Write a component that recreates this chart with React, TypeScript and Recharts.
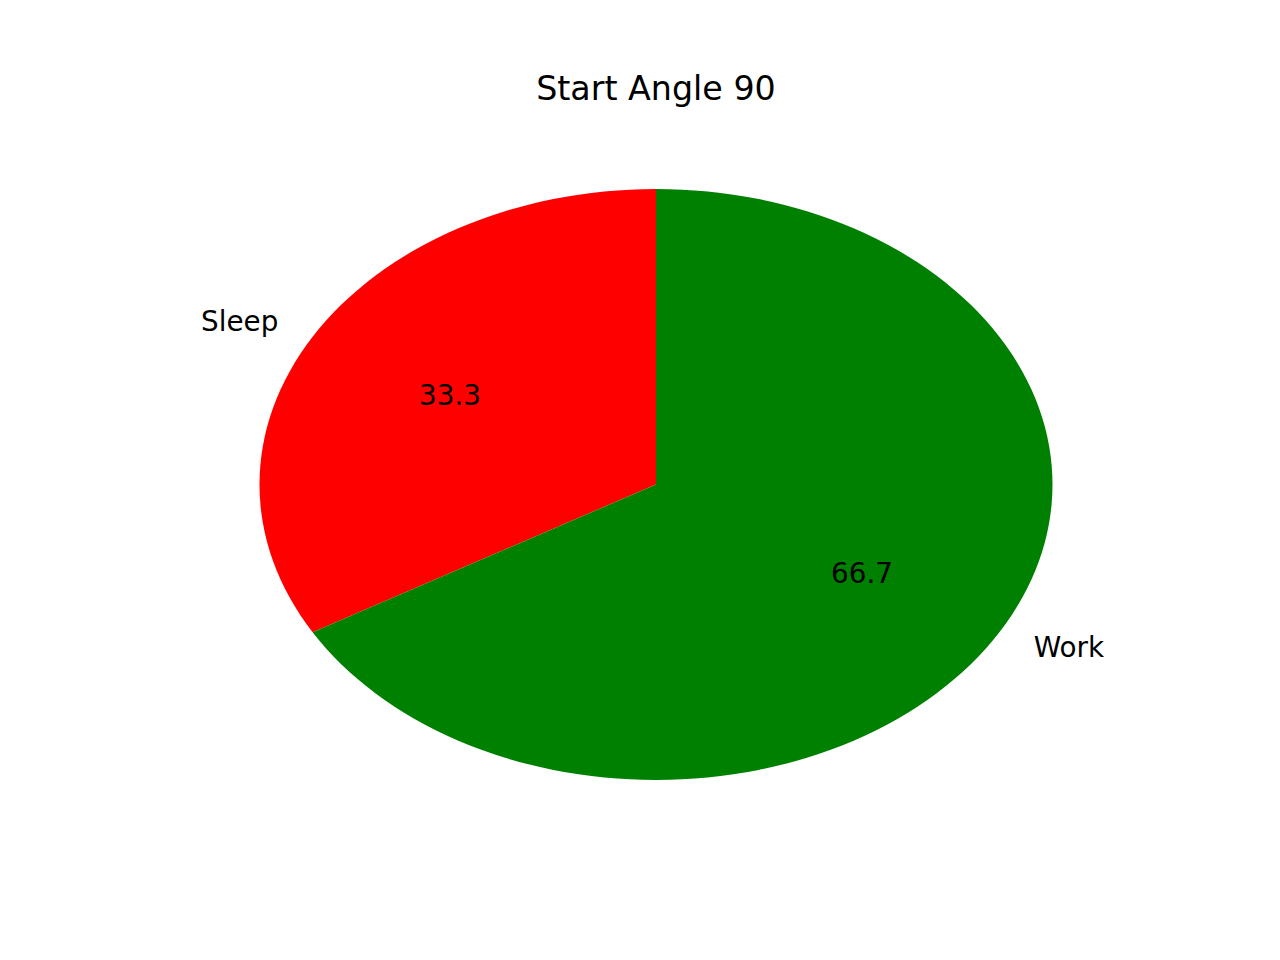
import React from 'react';
import { PieChart, Pie, Cell, Customized } from 'recharts';

const categories = ['Sleep', 'Work'];
const values = [8, 16];
const colors = ['#ff0000', '#008000'];
const title = 'Start Angle 90';

const data = categories.map((name, i) => ({ name, value: values[i] }));

const CX = 656;
const CY = 484.5;
const RX = 396.5;
const RY = 295.5;
const ASPECT = RY / RX;
const FONT = 'DejaVu Sans, sans-serif';

const RAD = Math.PI / 180;

const EllipseSector = (props: any) => {
  const { cx, cy, outerRadius, startAngle, endAngle, fill } = props;
  const rx = outerRadius;
  const ry = outerRadius * ASPECT;
  const a0 = startAngle * RAD;
  const a1 = endAngle * RAD;
  const x0 = cx + rx * Math.cos(a0);
  const y0 = cy - ry * Math.sin(a0);
  const x1 = cx + rx * Math.cos(a1);
  const y1 = cy - ry * Math.sin(a1);
  const sweep = Math.abs(endAngle - startAngle);
  const large = sweep > 180 ? 1 : 0;
  const sweepFlag = endAngle > startAngle ? 0 : 1;
  const d = `M ${cx} ${cy} L ${x0} ${y0} A ${rx} ${ry} 0 ${large} ${sweepFlag} ${x1} ${y1} Z`;
  return <path d={d} fill={fill} stroke="none" />;
};

const renderLabel = (props: any) => {
  const { cx, cy, midAngle, outerRadius, name, percent } = props;
  const c = Math.cos(midAngle * RAD);
  const s = Math.sin(midAngle * RAD);
  const rx = outerRadius;
  const ry = outerRadius * ASPECT;
  const lx = cx + 1.1 * rx * c;
  const ly = cy - 1.1 * ry * s;
  const px = cx + 0.6 * rx * c;
  const py = cy - 0.6 * ry * s;
  return (
    <g>
      <text
        x={lx}
        y={ly}
        textAnchor={c < 0 ? 'end' : 'start'}
        dominantBaseline="central"
        fontFamily={FONT}
        fontSize={27.8}
        fill="#000"
      >
        {name}
      </text>
      <text
        x={px}
        y={py}
        textAnchor="middle"
        dominantBaseline="central"
        fontFamily={FONT}
        fontSize={27.8}
        fill="#000"
      >
        {(percent * 100).toFixed(1)}
      </text>
    </g>
  );
};

const Title = () => (
  <text
    x={656}
    y={88}
    textAnchor="middle"
    dominantBaseline="central"
    fontFamily={FONT}
    fontSize={33.3}
    fill="#000"
  >
    {title}
  </text>
);

export default function App() {
  return (
    <div style={{ position: 'absolute', left: 0, top: 0, width: 1280, height: 960, background: '#fff' }}>
      <PieChart width={1280} height={960} margin={{ top: 0, right: 0, bottom: 0, left: 0 }}>
        <Customized component={Title} />
        <Pie
          data={data}
          dataKey="value"
          nameKey="name"
          cx={CX}
          cy={CY}
          innerRadius={0}
          outerRadius={RX}
          startAngle={90}
          endAngle={450}
          stroke="none"
          shape={EllipseSector}
          label={renderLabel}
          labelLine={false}
          isAnimationActive={false}
        >
          {data.map((d, i) => (
            <Cell key={d.name} fill={colors[i]} />
          ))}
        </Pie>
      </PieChart>
    </div>
  );
}
